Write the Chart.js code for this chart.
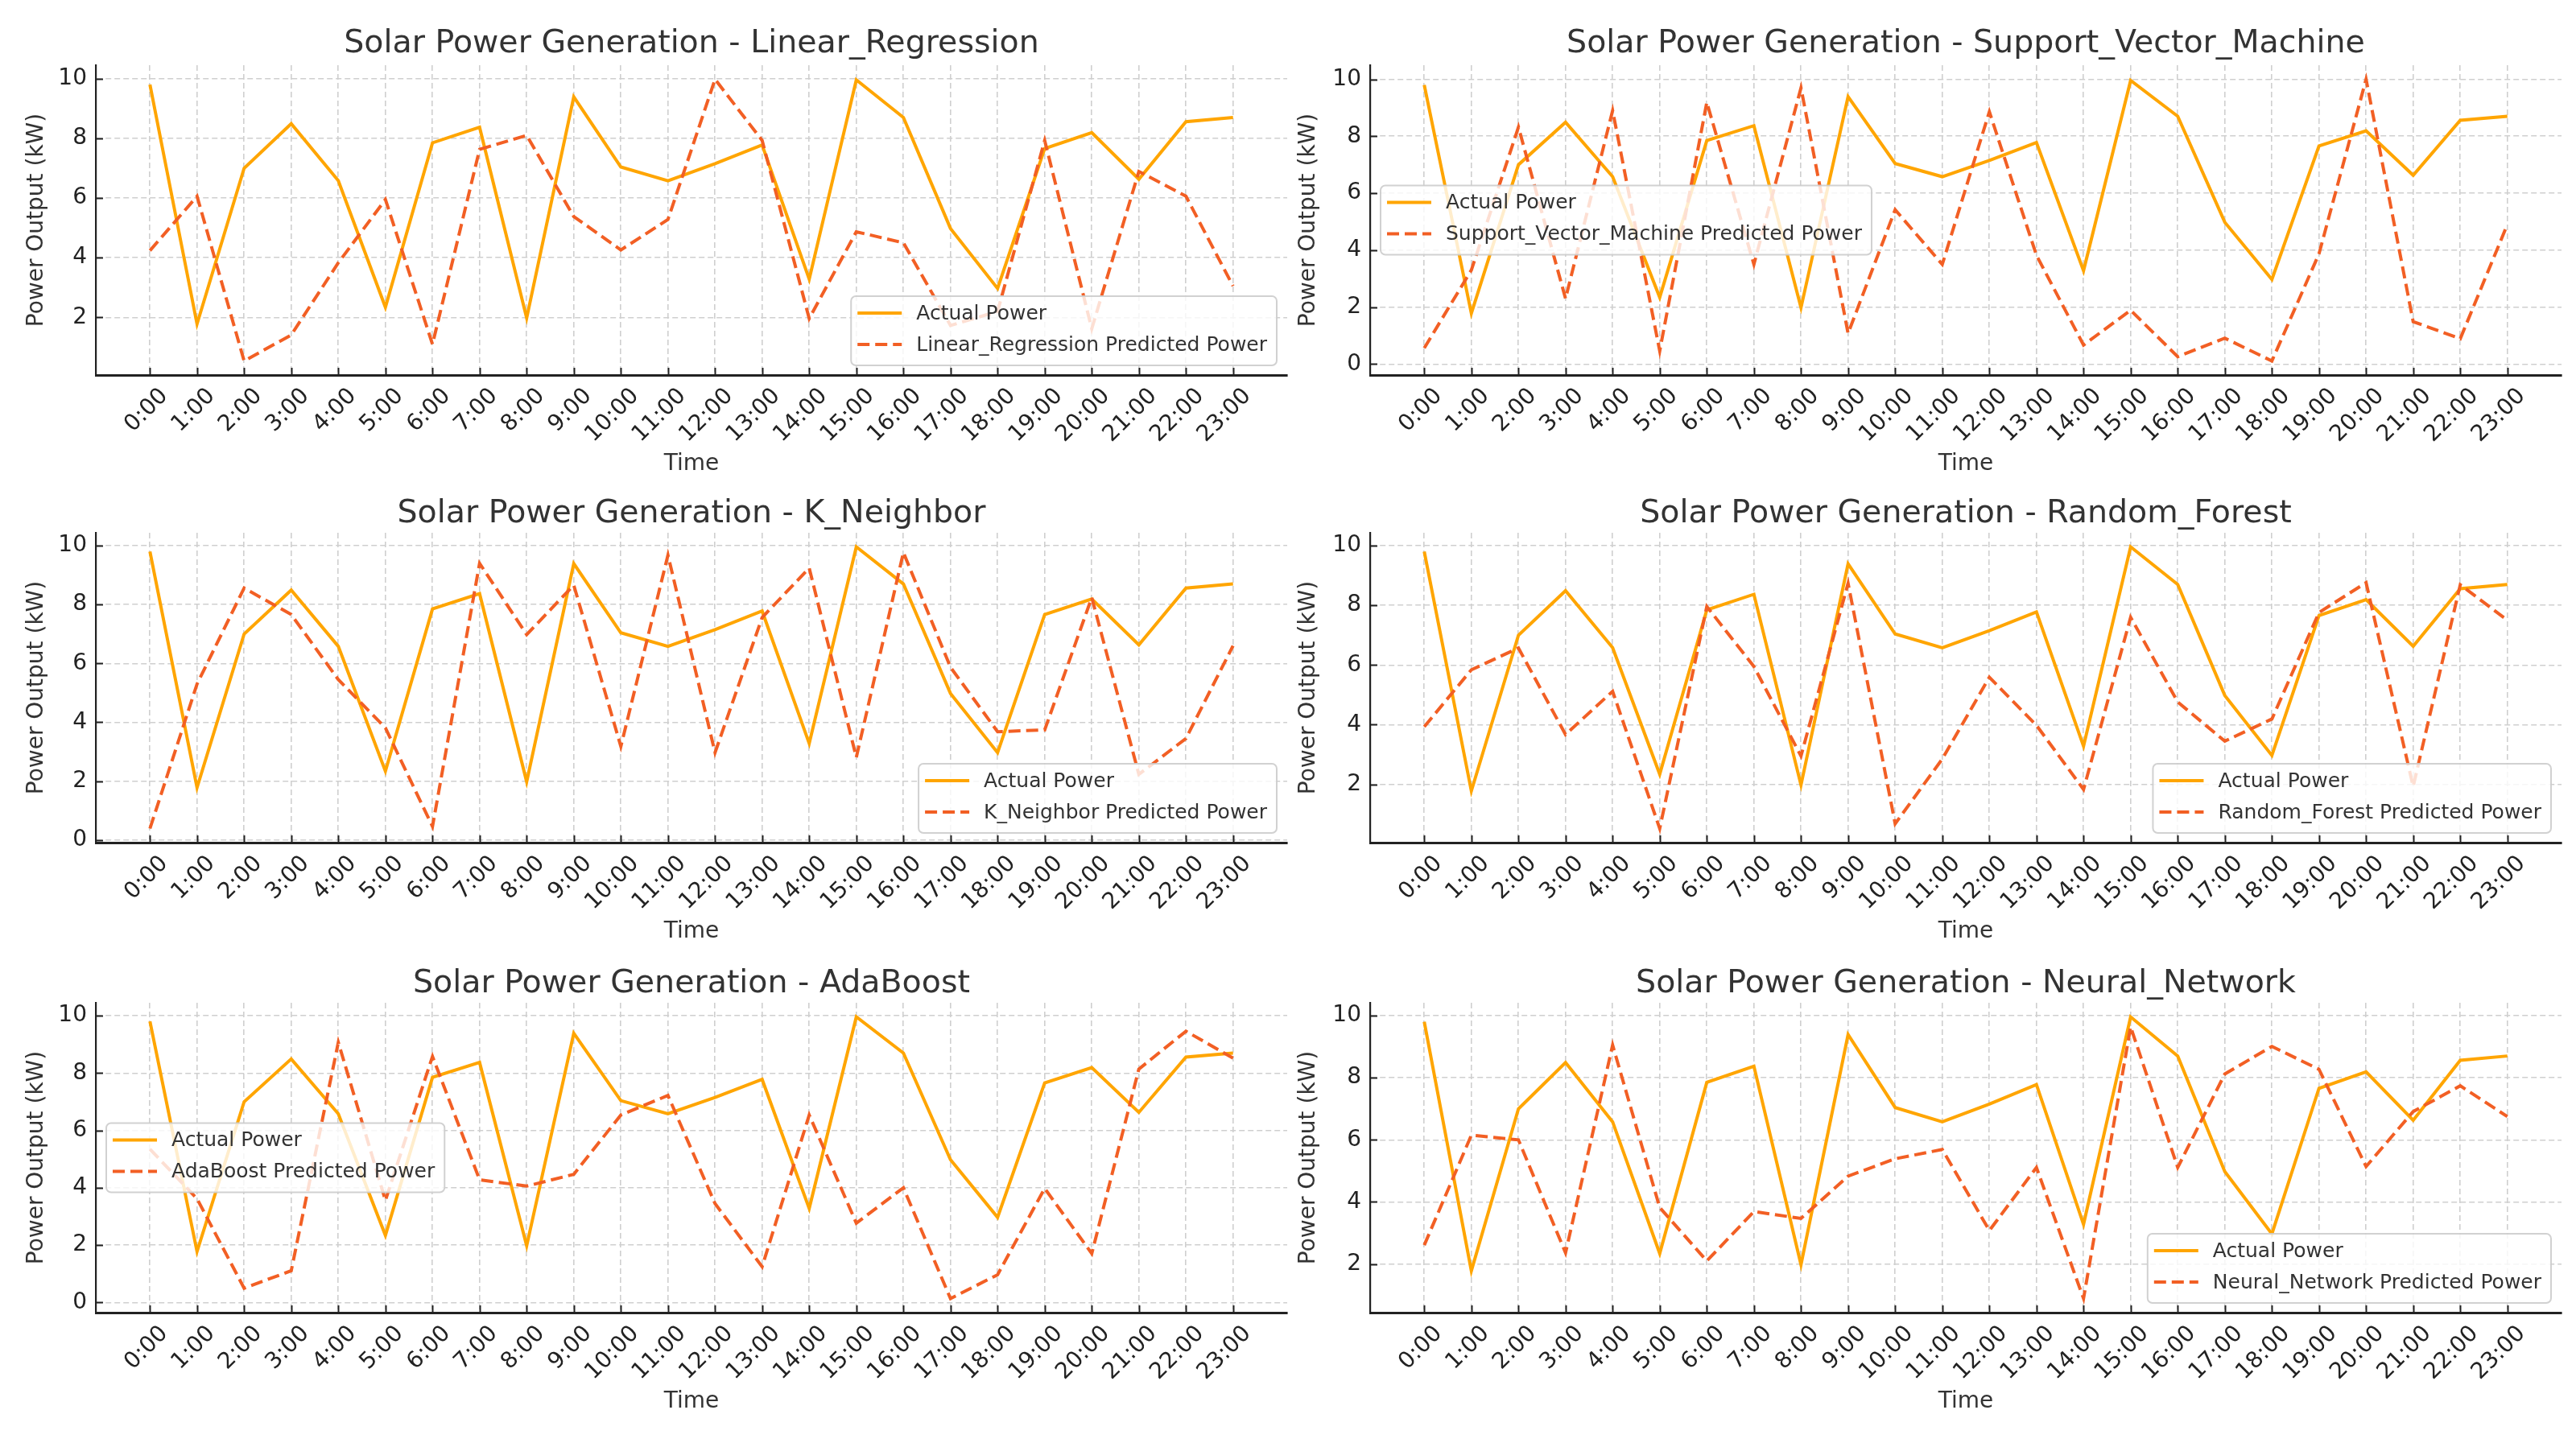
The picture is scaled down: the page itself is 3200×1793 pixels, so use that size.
<!DOCTYPE html>
<html>
<head>
<meta charset="utf-8">
<script src="https://cdn.jsdelivr.net/npm/chart.js@4.4.1/dist/chart.umd.min.js"></script>
<style>
html, body { margin: 0; padding: 0; background: #ffffff; }
body { width: 3200px; height: 1793px; position: relative; overflow: hidden; }
canvas { position: absolute; }
</style>
</head>
<body>
<script>
// ---------------- DATA ----------------
const hours = ['0:00','1:00','2:00','3:00','4:00','5:00','6:00','7:00','8:00','9:00','10:00','11:00',
               '12:00','13:00','14:00','15:00','16:00','17:00','18:00','19:00','20:00','21:00','22:00','23:00'];
const actualPower = [9.8, 1.78, 7.0, 8.49, 6.58, 2.34, 7.85, 8.37, 1.98, 9.39, 7.04, 6.58,
                     7.15, 7.78, 3.28, 9.96, 8.7, 4.98, 2.97, 7.66, 8.19, 6.63, 8.56, 8.7];
const models = ['Linear_Regression', 'Support_Vector_Machine', 'K_Neighbor', 'Random_Forest', 'AdaBoost', 'Neural_Network'];
const predLinearRegression = [4.24, 6.06, 0.54, 1.41, 3.83, 5.95, 1.1, 7.63, 8.1, 5.38, 4.26, 5.28,
                              9.98, 7.93, 1.96, 4.87, 4.5, 1.73, 2.2, 7.93, 1.62, 6.89, 6.06, 3.05];
const predSupportVectorMachine = [0.56, 3.3, 8.32, 2.3, 8.9, 0.46, 9.19, 3.5, 9.7, 1.08, 5.42, 3.5,
                                  8.86, 3.82, 0.67, 1.89, 0.26, 0.91, 0.11, 3.87, 10.0, 1.49, 0.89, 4.9];
const predKNeighbor = [0.39, 5.3, 8.56, 7.66, 5.45, 3.81, 0.46, 9.4, 6.98, 8.66, 3.18, 9.68,
                       2.97, 7.56, 9.24, 2.81, 9.77, 5.87, 3.68, 3.74, 8.24, 2.23, 3.45, 6.6];
const predRandomForest = [3.93, 5.84, 6.57, 3.67, 5.12, 0.52, 7.96, 5.95, 2.95, 8.74, 0.68, 2.85,
                          5.59, 3.98, 1.83, 7.6, 4.76, 3.45, 4.19, 7.76, 8.76, 1.93, 8.69, 7.5];
const predAdaBoost = [5.35, 3.62, 0.5, 1.11, 9.07, 3.56, 8.58, 4.28, 4.06, 4.47, 6.54, 7.22,
                      3.45, 1.25, 6.54, 2.77, 4.0, 0.14, 0.97, 3.98, 1.71, 8.14, 9.46, 8.52];
const predNeuralNetwork = [2.61, 6.15, 6.0, 2.36, 9.05, 3.82, 2.1, 3.69, 3.47, 4.83, 5.39, 5.69,
                           3.08, 5.11, 0.89, 9.64, 5.11, 8.12, 9.01, 8.27, 5.14, 6.91, 7.74, 6.75];
const predictions = [predLinearRegression, predSupportVectorMachine, predKNeighbor,
                     predRandomForest, predAdaBoost, predNeuralNetwork];
const yTickValues = [0, 2, 4, 6, 8, 10];

// ---------------- STYLE / LAYOUT ----------------
const FONT = 'DejaVu Sans';
const ACTUAL_COLOR = '#FFA500';
const PRED_COLOR = '#F25F24';
const GRID_COLOR = '#cfcfcf';
const legendLocs = ['lower right', 'center left', 'lower right', 'lower right', 'center left', 'lower right'];
const rowTops = [0, 581, 1165];
const titlePads = [{ top: 31, bottom: 2.6 }, { top: 33.6, bottom: 0 }, { top: 33.6, bottom: 0 }];
const CANVAS_W = 1600, CANVAS_H = 594;

Chart.defaults.font.family = FONT;

const mplDecor = {
  id: 'mplDecor',
  afterDraw(chart, args, opts) {
    const ctx = chart.ctx;
    const ca = chart.chartArea;
    const xs = chart.scales.x, ys = chart.scales.y;
    ctx.save();
    // inward tick marks
    ctx.strokeStyle = '#222222';
    ctx.lineWidth = 2;
    ctx.setLineDash([]);
    xs.ticks.forEach(t => {
      const px = Math.round(xs.getPixelForValue(t.value)) + 0.5;
      ctx.beginPath(); ctx.moveTo(px, ca.bottom); ctx.lineTo(px, ca.bottom - 9); ctx.stroke();
    });
    ys.ticks.forEach(t => {
      const py = Math.round(ys.getPixelForValue(t.value)) + 0.5;
      ctx.beginPath(); ctx.moveTo(ca.left, py); ctx.lineTo(ca.left + 9, py); ctx.stroke();
    });
    // legend (matplotlib style, inside axes)
    ctx.font = '25px "' + FONT + '"';
    const ds = chart.data.datasets;
    const tw = Math.max(...ds.map(d => ctx.measureText(d.label).width));
    const w = 93 + tw, h = 86;
    let x, y;
    if (opts.loc === 'lower right') { x = ca.right - 13 - w; y = ca.bottom - 12 - h; }
    else { x = ca.left + 13; y = (ca.top + ca.bottom) / 2 - h / 2; }
    const r = 6;
    ctx.beginPath();
    ctx.moveTo(x + r, y);
    ctx.lineTo(x + w - r, y); ctx.arcTo(x + w, y, x + w, y + r, r);
    ctx.lineTo(x + w, y + h - r); ctx.arcTo(x + w, y + h, x + w - r, y + h, r);
    ctx.lineTo(x + r, y + h); ctx.arcTo(x, y + h, x, y + h - r, r);
    ctx.lineTo(x, y + r); ctx.arcTo(x, y, x + r, y, r);
    ctx.closePath();
    ctx.fillStyle = 'rgba(255,255,255,0.8)';
    ctx.fill();
    ctx.strokeStyle = 'rgba(204,204,204,0.9)';
    ctx.lineWidth = 2;
    ctx.stroke();
    ds.forEach((d, i) => {
      const cy = y + 21 + i * 39;
      ctx.beginPath();
      ctx.strokeStyle = d.borderColor;
      ctx.lineWidth = d.borderWidth;
      ctx.setLineDash(d.borderDash || []);
      ctx.moveTo(x + 8, cy); ctx.lineTo(x + 63, cy); ctx.stroke();
      ctx.setLineDash([]);
      ctx.fillStyle = '#333333';
      ctx.textBaseline = 'middle';
      ctx.textAlign = 'left';
      ctx.fillText(d.label, x + 81, cy + 1);
    });
    ctx.restore();
  }
};

models.forEach((model, idx) => {
  const col = idx % 2, row = Math.floor(idx / 2);
  const cv = document.createElement('canvas');
  cv.width = CANVAS_W; cv.height = CANVAS_H;
  cv.style.left = (col * 1600) + 'px';
  cv.style.top = rowTops[row] + 'px';
  cv.style.width = CANVAS_W + 'px';
  cv.style.height = CANVAS_H + 'px';
  document.body.appendChild(cv);

  const pred = predictions[idx];
  const all = actualPower.concat(pred);
  const dmin = Math.min(...all), dmax = Math.max(...all);
  const m = 0.05 * (dmax - dmin);
  const ymin = dmin - m, ymax = dmax + m;

  const yAxisW = col === 0 ? 99 : 102;
  const padL = col === 0 ? 20 : 0;
  const padR = col === 0 ? 1 : 18;

  new Chart(cv, {
    type: 'line',
    data: {
      datasets: [
        { label: 'Actual Power', data: actualPower.map((v, i) => ({ x: i, y: v })),
          borderColor: ACTUAL_COLOR, borderWidth: 4, pointRadius: 0, tension: 0, fill: false, order: 2 },
        { label: model + ' Predicted Power', data: pred.map((v, i) => ({ x: i, y: v })),
          borderColor: PRED_COLOR, borderWidth: 4, borderDash: [15, 7], pointRadius: 0, tension: 0, fill: false, order: 1 }
      ]
    },
    options: {
      responsive: false,
      animation: false,
      devicePixelRatio: 1,
      layout: { padding: { left: padL, right: padR, top: 0, bottom: 0 } },
      plugins: {
        legend: { display: false },
        tooltip: { enabled: false },
        title: { display: true, fullSize: false, text: 'Solar Power Generation - ' + model,
                 font: { family: FONT, size: 39.5, weight: 'normal' }, color: '#333333',
                 padding: titlePads[row] },
        mplDecor: { loc: legendLocs[idx] }
      },
      scales: {
        x: {
          type: 'linear', min: -1.15, max: hours.length - 1 + 1.15,
          afterBuildTicks: s => { s.ticks = hours.map((h, i) => ({ value: i })); },
          afterFit: s => { s.height = 128; },
          ticks: { callback: v => hours[v], autoSkip: false, maxRotation: 45, minRotation: 45,
                   labelOffset: 18, padding: 10, font: { family: FONT, size: 28 }, color: '#222222' },
          grid: { color: GRID_COLOR, lineWidth: 1.6, drawTicks: false },
          border: { display: true, color: '#222222', width: 3, dash: [7, 4] },
          title: { display: true, text: 'Time', font: { family: FONT, size: 28 }, color: '#333333', padding: 0 }
        },
        y: {
          type: 'linear', min: ymin, max: ymax,
          afterBuildTicks: s => { s.ticks = yTickValues.filter(v => v >= s.min && v <= s.max).map(v => ({ value: v })); },
          afterFit: s => { s.width = yAxisW; },
          ticks: { padding: 11, font: { family: FONT, size: 28 }, color: '#222222' },
          grid: { color: GRID_COLOR, lineWidth: 1.6, drawTicks: false },
          border: { display: true, color: '#222222', width: 2.2, dash: [7, 4] },
          title: { display: true, text: 'Power Output (kW)', font: { family: FONT, size: 28 }, color: '#333333',
                   padding: { top: 9, bottom: 0 } }
        }
      }
    },
    plugins: [mplDecor]
  });
});
</script>
</body>
</html>
